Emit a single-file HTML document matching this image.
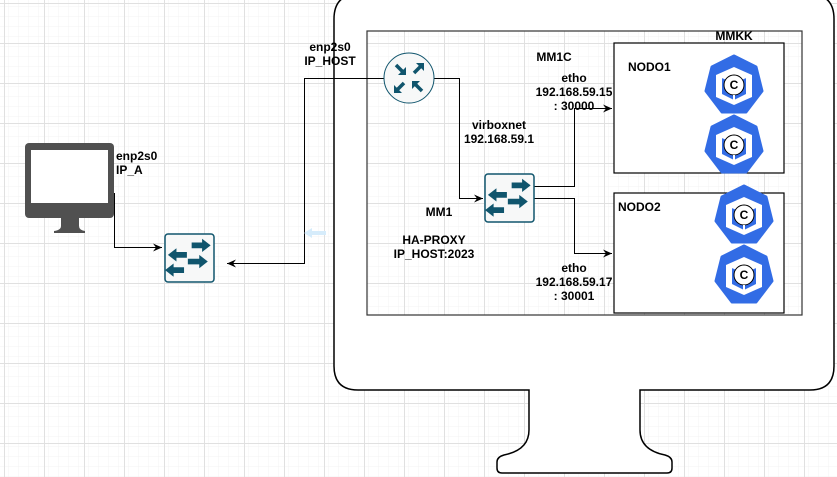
<!DOCTYPE html>
<html><head><style>
body{margin:0;width:837px;height:477px;overflow:hidden;background:#fff}
svg{display:block}
text{font-family:"Liberation Sans",sans-serif;font-size:12px;font-weight:bold;fill:#000}
</style></head><body>
<svg width="837" height="477" viewBox="0 0 837 477" xmlns="http://www.w3.org/2000/svg">
<defs>
<pattern id="minor" width="10" height="10" patternUnits="userSpaceOnUse" x="4" y="3">
<path d="M0 0H10M0 0V10" stroke="#f3f3f3" stroke-width="1" fill="none"/></pattern>
<pattern id="major" width="40" height="40" patternUnits="userSpaceOnUse" x="4" y="3">
<rect width="40" height="40" fill="url(#minor)"/>
<path d="M0 0.5H40M0.5 0V40" stroke="#e0e0e0" stroke-width="1" fill="none"/></pattern>
<marker id="ar" markerWidth="10" markerHeight="10" refX="9" refY="5" orient="auto" markerUnits="userSpaceOnUse">
<path d="M0 1L9 5L0 9L3 5Z" fill="#000"/></marker>
<g id="k8s">
<polygon points="0,-29 22,-18 28,6 12,27 -12,27 -28,6 -22,-18" fill="#326ce5" stroke="#326ce5" stroke-width="3" stroke-linejoin="round"/>
<path d="M0,-18 L18,-10 L18,12 L0,20 L-18,12 L-18,-10 Z" fill="#fff"/>
<path d="M-12,-7 L0,-2 L12,-7 L12,9 L0,15 L-12,9 Z" fill="#326ce5"/>
<path d="M-12,-7 L0,-2 L12,-7 L0,-12Z" fill="#fff"/>
<circle cx="0" cy="0" r="10" fill="#fff" stroke="#000" stroke-width="1"/>
<line x1="0" y1="10" x2="0" y2="16" stroke="#fff" stroke-width="2"/>
</g>
<g id="sw">
<rect x="0" y="0" width="49" height="48" rx="3" fill="#f7f8f8" stroke="#10556d" stroke-width="1.5"/>
<path d="M27 9h11v-4l9 7-9 7v-4h-11z M22 19h-11v-4l-9 7 9 7v-4h11z M23 26h12v-4l9 7-9 7v-4h-12z M19 35h-11v-4l-9 7 9 7v-4h11z" fill="#10556d" transform="translate(1,0) scale(0.95)"/>
</g>
</defs>
<rect width="837" height="477" fill="url(#major)"/>

<!-- big monitor -->
<path d="M359 -6 H809 Q834 -6 834 19 V366 Q834 390 810 390 H640 V430 Q640 450 665 455 Q672 457 672 462 V468 Q672 473 667 473 H502 Q497 473 497 468 V462 Q497 457 504 455 Q529 450 529 430 V390 H358 Q334 390 334 366 V19 Q334 -6 359 -6 Z" fill="#fff" stroke="#000" stroke-width="1.5"/>
<rect x="367" y="31" width="435" height="284" fill="url(#major)" stroke="#333" stroke-width="1.2"/>
<rect x="614" y="43" width="170" height="130" fill="#fff" stroke="#000" stroke-width="1.2"/>
<rect x="614" y="193" width="170" height="120" fill="#fff" stroke="#000" stroke-width="1.2"/>

<!-- left monitor -->
<rect x="25" y="143" width="89" height="75" rx="4" fill="#505050"/>
<rect x="31" y="150" width="77" height="53" fill="#fff"/>
<path d="M61 218 H79 V226 Q79 230 85 231 V233 H54 V231 Q61 230 61 226 Z" fill="#505050"/>

<!-- connectors -->
<g fill="none" stroke="#000" stroke-width="1">
<path d="M114.5 193 V247.5 H162" marker-end="url(#ar)"/>
<path d="M384 78.5 H304.5 V263.5 H227" marker-end="url(#ar)"/>
<path d="M434 78.5 H459.5 V198.5 H483" marker-end="url(#ar)"/>
<path d="M534 186.5 H574.5 V108.5 H612" marker-end="url(#ar)"/>
<path d="M534 198.5 H574.5 V253.5 H612" marker-end="url(#ar)"/>
</g>
<path d="M326 233 H312" stroke="#d6ecfb" stroke-width="4"/>
<path d="M304 233 L312 228 L312 238Z" fill="#d6ecfb"/>

<use href="#sw" x="165" y="234"/>
<use href="#sw" x="485" y="174"/>

<!-- router -->
<circle cx="409" cy="78" r="25" fill="#f7f8f8" stroke="#10556d" stroke-width="1"/>
<g stroke="#10556d" stroke-width="3.5" fill="#10556d">
<line x1="396" y1="65" x2="404" y2="73"/><polygon points="406,75 398,75 406,67" stroke="none"/>
<line x1="422" y1="65" x2="414" y2="73"/><polygon points="424,63 416,63 424,71" stroke="none"/>
<line x1="396" y1="91" x2="404" y2="83"/><polygon points="394,93 394,85 402,93" stroke="none"/>
<line x1="422" y1="91" x2="414" y2="83"/><polygon points="412,81 420,81 412,89" stroke="none"/>
</g>

<!-- k8s -->
<use href="#k8s" x="734" y="85"/>
<use href="#k8s" x="734" y="145"/>
<use href="#k8s" x="744" y="215"/>
<use href="#k8s" x="744" y="275"/>
<g text-anchor="middle" style="font-size:12px">
<text x="734" y="89">C</text><text x="734" y="149">C</text>
<text x="744" y="219">C</text><text x="744" y="279">C</text>
</g>

<!-- labels -->
<text x="116" y="160">enp2s0</text>
<text x="116" y="174">IP_A</text>
<g text-anchor="middle">
<text x="330" y="51">enp2s0</text>
<text x="330" y="65">IP_HOST</text>
<text x="554" y="61">MM1C</text>
<text x="574" y="82">etho</text>
<text x="574" y="96">192.168.59.15</text>
<text x="574" y="110">: 30000</text>
<text x="499" y="129">virboxnet</text>
<text x="499" y="143">192.168.59.1</text>
<text x="439" y="216">MM1</text>
<text x="434" y="244">HA-PROXY</text>
<text x="434" y="258">IP_HOST:2023</text>
<text x="574" y="272">etho</text>
<text x="574" y="286">192.168.59.17</text>
<text x="574" y="300">: 30001</text>
<text x="734" y="40">MMKK</text>
</g>
<text x="628" y="71">NODO1</text>
<text x="618" y="211">NODO2</text>
</svg>
</body></html>
